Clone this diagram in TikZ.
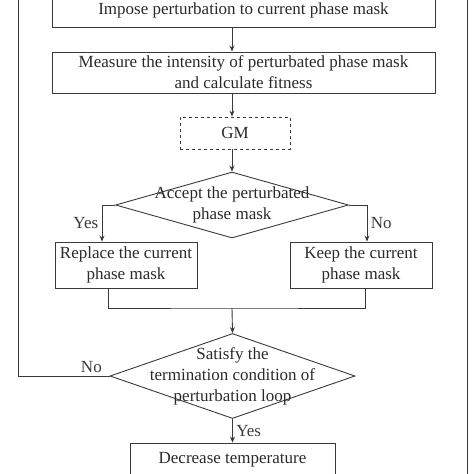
\documentclass[tikz,border=0pt]{standalone}
\usepackage{fontspec}
\setmainfont{Liberation Serif}
\usetikzlibrary{positioning,shapes.geometric,arrows.meta}
\definecolor{ln}{HTML}{3A3A3A}
\definecolor{txt}{HTML}{2A2A2A}

\begin{document}
\begin{tikzpicture}[x=1pt,y=-1pt,font=\fontsize{17}{21}\selectfont,text=txt,
  box/.style={draw=ln,line width=0.9pt,align=center,inner sep=2pt},
  dbox/.style={box,dashed},
  dec/.style={draw=ln,line width=0.9pt,diamond,inner sep=0pt},
  wire/.style={ln,line width=0.9pt},
  arr/.style={-{Stealth[length=6pt,width=5pt]},ln,line width=0.9pt}]
\useasboundingbox (0,0) rectangle (474,474);
\clip (0,0) rectangle (474,474);
\node[box,minimum width=383pt,minimum height=34pt] (imp) at (243.5,10) {Impose perturbation to current phase mask};
\node[box,minimum width=383pt,minimum height=41pt] (meas) at (243.5,72.5) {Measure the intensity of perturbated phase mask\\and calculate fitness};
\node[dbox,minimum width=110pt,minimum height=32pt] (gm) at (235,133) {GM};
\node[dec,minimum width=233pt,minimum height=66pt,
  label={[align=center]center:Accept the perturbated\\phase mask}] (acc) at (232,205) {};
\node[box,minimum width=142pt,minimum height=46pt] (rep) at (126,265) {Replace the current\\phase mask};
\node[box,minimum width=142pt,minimum height=46pt] (keep) at (361,265) {Keep the current\\phase mask};
\coordinate (join) at (232,308);
\node[dec,minimum width=245pt,minimum height=85pt,
  label={[align=center]center:Satisfy the\\termination condition of\\perturbation loop}] (sat) at (232.5,376) {};
\node[box,minimum width=205pt,minimum height=34pt] (decr) at (232.5,460) {Decrease temperature};
\coordinate (backl) at (18,-20);
\coordinate (backrt) at (467,-20);
\coordinate (backrb) at (467,494);
% main line
\draw[arr] (imp.south -| acc) -- (meas.north -| acc);
\draw[arr] (meas.south -| acc) -- (gm.north -| acc);
\draw[arr] (gm.south -| acc) -- (acc.north);
\draw[arr] (acc.west) -| ([xshift=-24pt]rep.north) node[pos=0.75,left] {Yes};
\draw[arr] (acc.east) -| ([xshift=6pt]keep.north) node[pos=0.75,right] {No};
\draw[wire] ([xshift=-18pt]rep.south) |- (join) -| ([xshift=4pt]keep.south);
\draw[arr] (join) -- (sat.north);
\draw[arr] (sat.south) -- (decr.north) node[midway,right] {Yes};
% loops
\draw[wire] (sat.west) node[above left,xshift=-4pt] {No} -| (backl);
\draw[wire] (backrt) -- (backrb);
\end{tikzpicture}
\end{document}
